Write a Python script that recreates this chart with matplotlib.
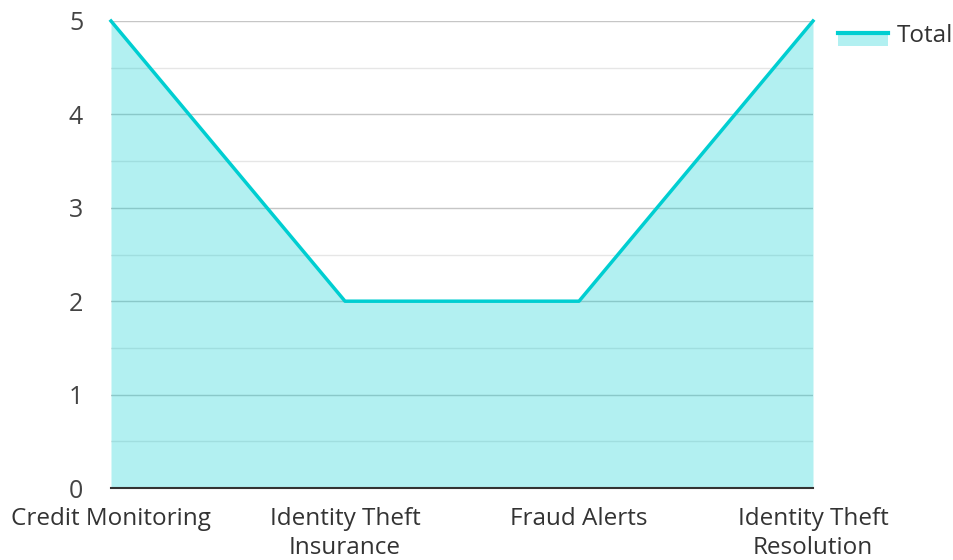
import matplotlib.pyplot as plt
from matplotlib.legend_handler import HandlerBase
from matplotlib.patches import Rectangle
from matplotlib.lines import Line2D

categories = ["Credit Monitoring", "Identity Theft\nInsurance", "Fraud Alerts", "Identity Theft\nResolution"]
totals = [5, 2, 2, 5]

line_color = "#00CED1"
fill_color = "#00CED1"

plt.rcParams['font.family'] = ['Open Sans', 'DejaVu Sans']


class AreaHandler(HandlerBase):
    def create_artists(self, legend, orig_handle, xdescent, ydescent, width, height, fontsize, trans):
        mid = -ydescent + 0.5 * height
        rect = Rectangle((-xdescent, mid - 0.75 * height), width, 0.75 * height,
                         facecolor=fill_color, alpha=0.3, edgecolor='none', transform=trans)
        line = Line2D([-xdescent, -xdescent + width], [mid, mid], color=line_color, lw=3, transform=trans)
        return [rect, line]


fig = plt.figure(figsize=(9.54, 5.6), dpi=100)
ax = fig.add_axes([111 / 954, 72 / 560, 702 / 954, 467 / 560])

x = list(range(len(categories)))
ax.fill_between(x, totals, 0, color=fill_color, alpha=0.3, linewidth=0, zorder=1)
ax.plot(x, totals, color=line_color, lw=2.5, zorder=3, clip_on=False)

ax.set_xlim(0, len(categories) - 1)
ax.set_ylim(0, 5)
ax.set_yticks(range(0, 6))
ax.set_yticks([i + 0.5 for i in range(5)], minor=True)
ax.set_axisbelow(True)
ax.grid(axis='y', which='major', color='#c6c6c6', lw=1)
ax.grid(axis='y', which='minor', color='#e6e6e6', lw=1)
ax.set_xticks(x)
ax.set_xticklabels(categories, fontsize=17.5, color='#333333', linespacing=1.28)
ax.tick_params(axis='x', length=0, pad=14)
ax.tick_params(axis='y', which='both', length=0, pad=20, labelsize=18, labelcolor='#444444')

for s in ['left', 'right', 'top']:
    ax.spines[s].set_visible(False)
ax.spines['bottom'].set_color('#333333')
ax.spines['bottom'].set_linewidth(1.5)
ax.spines['bottom'].set_zorder(4)

leg_handle = Rectangle((0, 0), 1, 1)
ax.legend([leg_handle], ["Total"], handler_map={Rectangle: AreaHandler()},
          loc='upper left', bbox_to_anchor=(1.0085, 1.036), frameon=False, borderpad=0.3,
          fontsize=17.5, handlelength=2.05, handletextpad=0.37, labelcolor='#333333')

fig.savefig("out.png", dpi=100)
